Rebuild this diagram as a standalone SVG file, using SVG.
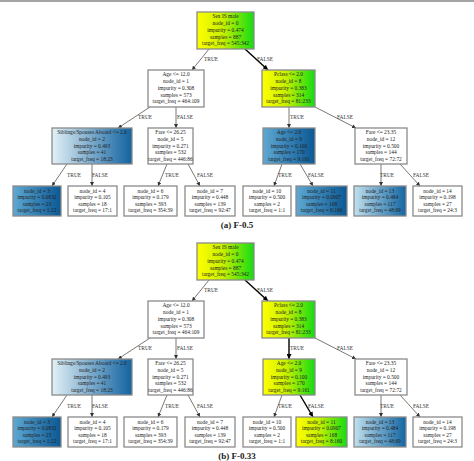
<svg xmlns="http://www.w3.org/2000/svg" width="474" height="461" viewBox="0 0 474 461">
<defs>
<linearGradient id="gGreen" x1="0" y1="0" x2="1" y2="0"><stop offset="0" stop-color="#ffff00"/><stop offset="0.45" stop-color="#c8f000"/><stop offset="1" stop-color="#14dc14"/></linearGradient>
<linearGradient id="gBlueLight" x1="0" y1="0" x2="1" y2="0"><stop offset="0" stop-color="#e2f0f6"/><stop offset="1" stop-color="#1263a0"/></linearGradient>
<linearGradient id="gBlueDark" x1="0" y1="0" x2="1" y2="0"><stop offset="0" stop-color="#5ea8d2"/><stop offset="1" stop-color="#0b5894"/></linearGradient>
<linearGradient id="gBlueMid" x1="0" y1="0" x2="1" y2="0"><stop offset="0" stop-color="#c0e0ee"/><stop offset="1" stop-color="#1466a2"/></linearGradient>
<marker id="ah" viewBox="0 0 6 6" refX="6" refY="3" markerWidth="4" markerHeight="4" markerUnits="userSpaceOnUse" orient="auto"><path d="M0,0 L6,3 L0,6 z" fill="#333"/></marker>
<marker id="ahb" viewBox="0 0 6 6" refX="6" refY="3" markerWidth="5" markerHeight="5" markerUnits="userSpaceOnUse" orient="auto"><path d="M0,0 L6,3 L0,6 z" fill="#000"/></marker>
</defs>
<style>
.box{stroke:#8a8a8a;stroke-width:1.3;fill:#ffffff}
.t{font-family:"Liberation Serif",serif;font-size:5.4px;fill:#222;text-anchor:middle}
.lab{font-family:"Liberation Serif",serif;font-size:5.4px;fill:#333}
.e{stroke:#555;stroke-width:0.8;fill:none;marker-end:url(#ah)}
.eb{stroke:#000;stroke-width:1.4;fill:none;marker-end:url(#ahb)}
.cap{font-family:"Liberation Serif",serif;font-size:9px;fill:#222;text-anchor:middle;font-weight:bold}
</style>
<rect x="0" y="0" width="474" height="2" fill="#a4a4a4"/>

<!-- ===== (a) ===== -->
<g id="diagram-a">
<g id="a-edges">
<path class="e" d="M209,49 L192,70"/><text class="lab" x="204" y="61">TRUE</text>
<path class="eb" d="M245,49 L268,70"/><text class="lab" x="257" y="61">FALSE</text>
<path class="e" d="M150,107 L118,128"/><text class="lab" x="138" y="119">TRUE</text>
<path class="e" d="M176,107 L176,128"/><text class="lab" x="177" y="119">FALSE</text>
<path class="e" d="M289,107 L289,128"/><text class="lab" x="290" y="119">TRUE</text>
<path class="e" d="M315,107 L356,128"/><text class="lab" x="337" y="119">FALSE</text>
<path class="e" d="M67,164 L52,186"/><text class="lab" x="67" y="177">TRUE</text>
<path class="e" d="M92,164 L92,186"/><text class="lab" x="92" y="177">FALSE</text>
<path class="e" d="M167,164 L158,186"/><text class="lab" x="165" y="177">TRUE</text>
<path class="e" d="M188,164 L200,186"/><text class="lab" x="197" y="177">FALSE</text>
<path class="e" d="M282,164 L274,186"/><text class="lab" x="278" y="177">TRUE</text>
<path class="e" d="M300,164 L313,186"/><text class="lab" x="308" y="177">FALSE</text>
<path class="e" d="M381,164 L381,186"/><text class="lab" x="380" y="177">TRUE</text>
<path class="e" d="M400,164 L420,186"/><text class="lab" x="413" y="177">FALSE</text>
</g>
<g id="a-n0"><rect class="box" x="197" y="12" width="57" height="37" style="fill:url(#gGreen)"/>
<text class="t" x="225.5" y="18">Sex IS male</text><text class="t" x="225.5" y="25">node_id = 0</text><text class="t" x="225.5" y="32">impurity = 0.474</text><text class="t" x="225.5" y="38.5">samples = 887</text><text class="t" x="225.5" y="45">target_freq = 545:342</text></g>
<g id="a-n1"><rect class="box" x="148" y="70" width="56" height="37"/>
<text class="t" x="176" y="76">Age &lt;= 12.0</text><text class="t" x="176" y="83">node_id = 1</text><text class="t" x="176" y="90">impurity = 0.308</text><text class="t" x="176" y="96.5">samples = 573</text><text class="t" x="176" y="103">target_freq = 464:109</text></g>
<g id="a-n8"><rect class="box" x="262" y="70" width="53" height="37" style="fill:url(#gGreen)"/>
<text class="t" x="288.5" y="76">Pclass &lt;= 2.0</text><text class="t" x="288.5" y="83">node_id = 8</text><text class="t" x="288.5" y="90">impurity = 0.383</text><text class="t" x="288.5" y="96.5">samples = 314</text><text class="t" x="288.5" y="103">target_freq = 81:233</text></g>
<g id="a-n2"><rect class="box" x="52" y="128" width="80" height="36" style="fill:url(#gBlueLight)"/>
<text class="t" x="92" y="134">Siblings/Spouses Aboard &lt;= 2.0</text><text class="t" x="92" y="141">node_id = 2</text><text class="t" x="92" y="147.5">impurity = 0.493</text><text class="t" x="92" y="154">samples = 41</text><text class="t" x="92" y="160.5">target_freq = 18:23</text></g>
<g id="a-n5"><rect class="box" x="148" y="128" width="45" height="36"/>
<text class="t" x="170.5" y="134">Fare &lt;= 26.25</text><text class="t" x="170.5" y="141">node_id = 5</text><text class="t" x="170.5" y="147.5">impurity = 0.271</text><text class="t" x="170.5" y="154">samples = 532</text><text class="t" x="170.5" y="160.5">target_freq = 446:86</text></g>
<g id="a-n9"><rect class="box" x="263" y="128" width="52" height="36" style="fill:url(#gBlueDark)"/>
<text class="t" x="289" y="134">Age &lt;= 2.0</text><text class="t" x="289" y="141">node_id = 9</text><text class="t" x="289" y="147.5">impurity = 0.100</text><text class="t" x="289" y="154">samples = 170</text><text class="t" x="289" y="160.5">target_freq = 9:161</text></g>
<g id="a-n12"><rect class="box" x="355" y="128" width="52" height="36"/>
<text class="t" x="381" y="134">Fare &lt;= 23.35</text><text class="t" x="381" y="141">node_id = 12</text><text class="t" x="381" y="147.5">impurity = 0.500</text><text class="t" x="381" y="154">samples = 144</text><text class="t" x="381" y="160.5">target_freq = 72:72</text></g>
<g id="a-n3"><rect class="box" x="13" y="186" width="48" height="30" style="fill:url(#gBlueDark)"/>
<text class="t" x="37" y="192.5">node_id = 3</text><text class="t" x="37" y="199">impurity = 0.0832</text><text class="t" x="37" y="205.5">samples = 23</text><text class="t" x="37" y="212">target_freq = 1:22</text></g>
<g id="a-n4"><rect class="box" x="68" y="186" width="49" height="30"/>
<text class="t" x="92.5" y="192.5">node_id = 4</text><text class="t" x="92.5" y="199">impurity = 0.105</text><text class="t" x="92.5" y="205.5">samples = 18</text><text class="t" x="92.5" y="212">target_freq = 17:1</text></g>
<g id="a-n6"><rect class="box" x="124" y="186" width="53" height="30"/>
<text class="t" x="150.5" y="192.5">node_id = 6</text><text class="t" x="150.5" y="199">impurity = 0.179</text><text class="t" x="150.5" y="205.5">samples = 393</text><text class="t" x="150.5" y="212">target_freq = 354:39</text></g>
<g id="a-n7"><rect class="box" x="185" y="186" width="50" height="30"/>
<text class="t" x="210" y="192.5">node_id = 7</text><text class="t" x="210" y="199">impurity = 0.448</text><text class="t" x="210" y="205.5">samples = 139</text><text class="t" x="210" y="212">target_freq = 92:47</text></g>
<g id="a-n10"><rect class="box" x="243" y="186" width="48" height="30"/>
<text class="t" x="267" y="192.5">node_id = 10</text><text class="t" x="267" y="199">impurity = 0.500</text><text class="t" x="267" y="205.5">samples = 2</text><text class="t" x="267" y="212">target_freq = 1:1</text></g>
<g id="a-n11"><rect class="box" x="296" y="186" width="51" height="30" style="fill:url(#gBlueDark)"/>
<text class="t" x="321.5" y="192.5">node_id = 11</text><text class="t" x="321.5" y="199">impurity = 0.0907</text><text class="t" x="321.5" y="205.5">samples = 168</text><text class="t" x="321.5" y="212">target_freq = 8:160</text></g>
<g id="a-n13"><rect class="box" x="354" y="186" width="52" height="30" style="fill:url(#gBlueMid)"/>
<text class="t" x="380" y="192.5">node_id = 13</text><text class="t" x="380" y="199">impurity = 0.484</text><text class="t" x="380" y="205.5">samples = 117</text><text class="t" x="380" y="212">target_freq = 48:69</text></g>
<g id="a-n14"><rect class="box" x="413" y="186" width="49" height="30"/>
<text class="t" x="437.5" y="192.5">node_id = 14</text><text class="t" x="437.5" y="199">impurity = 0.198</text><text class="t" x="437.5" y="205.5">samples = 27</text><text class="t" x="437.5" y="212">target_freq = 24:3</text></g>
<text class="cap" x="237" y="228">(a)  F-0.5</text>
</g>

<!-- ===== (b) ===== -->
<g id="diagram-b" transform="translate(0,231)">
<g id="b-edges">
<path class="e" d="M209,49 L192,70"/><text class="lab" x="204" y="61">TRUE</text>
<path class="eb" d="M245,49 L268,70"/><text class="lab" x="257" y="61">FALSE</text>
<path class="e" d="M150,107 L118,128"/><text class="lab" x="138" y="119">TRUE</text>
<path class="e" d="M176,107 L176,128"/><text class="lab" x="177" y="119">FALSE</text>
<path class="eb" d="M289,107 L289,128"/><text class="lab" x="290" y="119">TRUE</text>
<path class="e" d="M315,107 L356,128"/><text class="lab" x="337" y="119">FALSE</text>
<path class="e" d="M67,164 L52,186"/><text class="lab" x="67" y="177">TRUE</text>
<path class="e" d="M92,164 L92,186"/><text class="lab" x="92" y="177">FALSE</text>
<path class="e" d="M167,164 L158,186"/><text class="lab" x="165" y="177">TRUE</text>
<path class="e" d="M188,164 L200,186"/><text class="lab" x="197" y="177">FALSE</text>
<path class="e" d="M282,164 L274,186"/><text class="lab" x="278" y="177">TRUE</text>
<path class="eb" d="M300,164 L313,186"/><text class="lab" x="308" y="177">FALSE</text>
<path class="e" d="M381,164 L381,186"/><text class="lab" x="380" y="177">TRUE</text>
<path class="e" d="M400,164 L420,186"/><text class="lab" x="413" y="177">FALSE</text>
</g>
<g id="b-n0"><rect class="box" x="197" y="12" width="57" height="37" style="fill:url(#gGreen)"/>
<text class="t" x="225.5" y="18">Sex IS male</text><text class="t" x="225.5" y="25">node_id = 0</text><text class="t" x="225.5" y="32">impurity = 0.474</text><text class="t" x="225.5" y="38.5">samples = 887</text><text class="t" x="225.5" y="45">target_freq = 545:342</text></g>
<g id="b-n1"><rect class="box" x="148" y="70" width="56" height="37"/>
<text class="t" x="176" y="76">Age &lt;= 12.0</text><text class="t" x="176" y="83">node_id = 1</text><text class="t" x="176" y="90">impurity = 0.308</text><text class="t" x="176" y="96.5">samples = 573</text><text class="t" x="176" y="103">target_freq = 464:109</text></g>
<g id="b-n8"><rect class="box" x="262" y="70" width="53" height="37" style="fill:url(#gGreen)"/>
<text class="t" x="288.5" y="76">Pclass &lt;= 2.0</text><text class="t" x="288.5" y="83">node_id = 8</text><text class="t" x="288.5" y="90">impurity = 0.383</text><text class="t" x="288.5" y="96.5">samples = 314</text><text class="t" x="288.5" y="103">target_freq = 81:233</text></g>
<g id="b-n2"><rect class="box" x="52" y="128" width="80" height="36" style="fill:url(#gBlueLight)"/>
<text class="t" x="92" y="134">Siblings/Spouses Aboard &lt;= 2.0</text><text class="t" x="92" y="141">node_id = 2</text><text class="t" x="92" y="147.5">impurity = 0.493</text><text class="t" x="92" y="154">samples = 41</text><text class="t" x="92" y="160.5">target_freq = 18:23</text></g>
<g id="b-n5"><rect class="box" x="148" y="128" width="45" height="36"/>
<text class="t" x="170.5" y="134">Fare &lt;= 26.25</text><text class="t" x="170.5" y="141">node_id = 5</text><text class="t" x="170.5" y="147.5">impurity = 0.271</text><text class="t" x="170.5" y="154">samples = 532</text><text class="t" x="170.5" y="160.5">target_freq = 446:86</text></g>
<g id="b-n9"><rect class="box" x="263" y="128" width="52" height="36" style="fill:url(#gGreen)"/>
<text class="t" x="289" y="134">Age &lt;= 2.0</text><text class="t" x="289" y="141">node_id = 9</text><text class="t" x="289" y="147.5">impurity = 0.100</text><text class="t" x="289" y="154">samples = 170</text><text class="t" x="289" y="160.5">target_freq = 9:161</text></g>
<g id="b-n12"><rect class="box" x="355" y="128" width="52" height="36"/>
<text class="t" x="381" y="134">Fare &lt;= 23.35</text><text class="t" x="381" y="141">node_id = 12</text><text class="t" x="381" y="147.5">impurity = 0.500</text><text class="t" x="381" y="154">samples = 144</text><text class="t" x="381" y="160.5">target_freq = 72:72</text></g>
<g id="b-n3"><rect class="box" x="13" y="186" width="48" height="30" style="fill:url(#gBlueDark)"/>
<text class="t" x="37" y="192.5">node_id = 3</text><text class="t" x="37" y="199">impurity = 0.0832</text><text class="t" x="37" y="205.5">samples = 23</text><text class="t" x="37" y="212">target_freq = 1:22</text></g>
<g id="b-n4"><rect class="box" x="68" y="186" width="49" height="30"/>
<text class="t" x="92.5" y="192.5">node_id = 4</text><text class="t" x="92.5" y="199">impurity = 0.105</text><text class="t" x="92.5" y="205.5">samples = 18</text><text class="t" x="92.5" y="212">target_freq = 17:1</text></g>
<g id="b-n6"><rect class="box" x="124" y="186" width="53" height="30"/>
<text class="t" x="150.5" y="192.5">node_id = 6</text><text class="t" x="150.5" y="199">impurity = 0.179</text><text class="t" x="150.5" y="205.5">samples = 393</text><text class="t" x="150.5" y="212">target_freq = 354:39</text></g>
<g id="b-n7"><rect class="box" x="185" y="186" width="50" height="30"/>
<text class="t" x="210" y="192.5">node_id = 7</text><text class="t" x="210" y="199">impurity = 0.448</text><text class="t" x="210" y="205.5">samples = 139</text><text class="t" x="210" y="212">target_freq = 92:47</text></g>
<g id="b-n10"><rect class="box" x="243" y="186" width="48" height="30"/>
<text class="t" x="267" y="192.5">node_id = 10</text><text class="t" x="267" y="199">impurity = 0.500</text><text class="t" x="267" y="205.5">samples = 2</text><text class="t" x="267" y="212">target_freq = 1:1</text></g>
<g id="b-n11"><rect class="box" x="296" y="186" width="51" height="30" style="fill:url(#gGreen)"/>
<text class="t" x="321.5" y="192.5">node_id = 11</text><text class="t" x="321.5" y="199">impurity = 0.0907</text><text class="t" x="321.5" y="205.5">samples = 168</text><text class="t" x="321.5" y="212">target_freq = 8:160</text></g>
<g id="b-n13"><rect class="box" x="354" y="186" width="52" height="30" style="fill:url(#gBlueMid)"/>
<text class="t" x="380" y="192.5">node_id = 13</text><text class="t" x="380" y="199">impurity = 0.484</text><text class="t" x="380" y="205.5">samples = 117</text><text class="t" x="380" y="212">target_freq = 48:69</text></g>
<g id="b-n14"><rect class="box" x="413" y="186" width="49" height="30"/>
<text class="t" x="437.5" y="192.5">node_id = 14</text><text class="t" x="437.5" y="199">impurity = 0.198</text><text class="t" x="437.5" y="205.5">samples = 27</text><text class="t" x="437.5" y="212">target_freq = 24:3</text></g>
<text class="cap" x="237" y="228">(b)  F-0.33</text>
</g>
</svg>
